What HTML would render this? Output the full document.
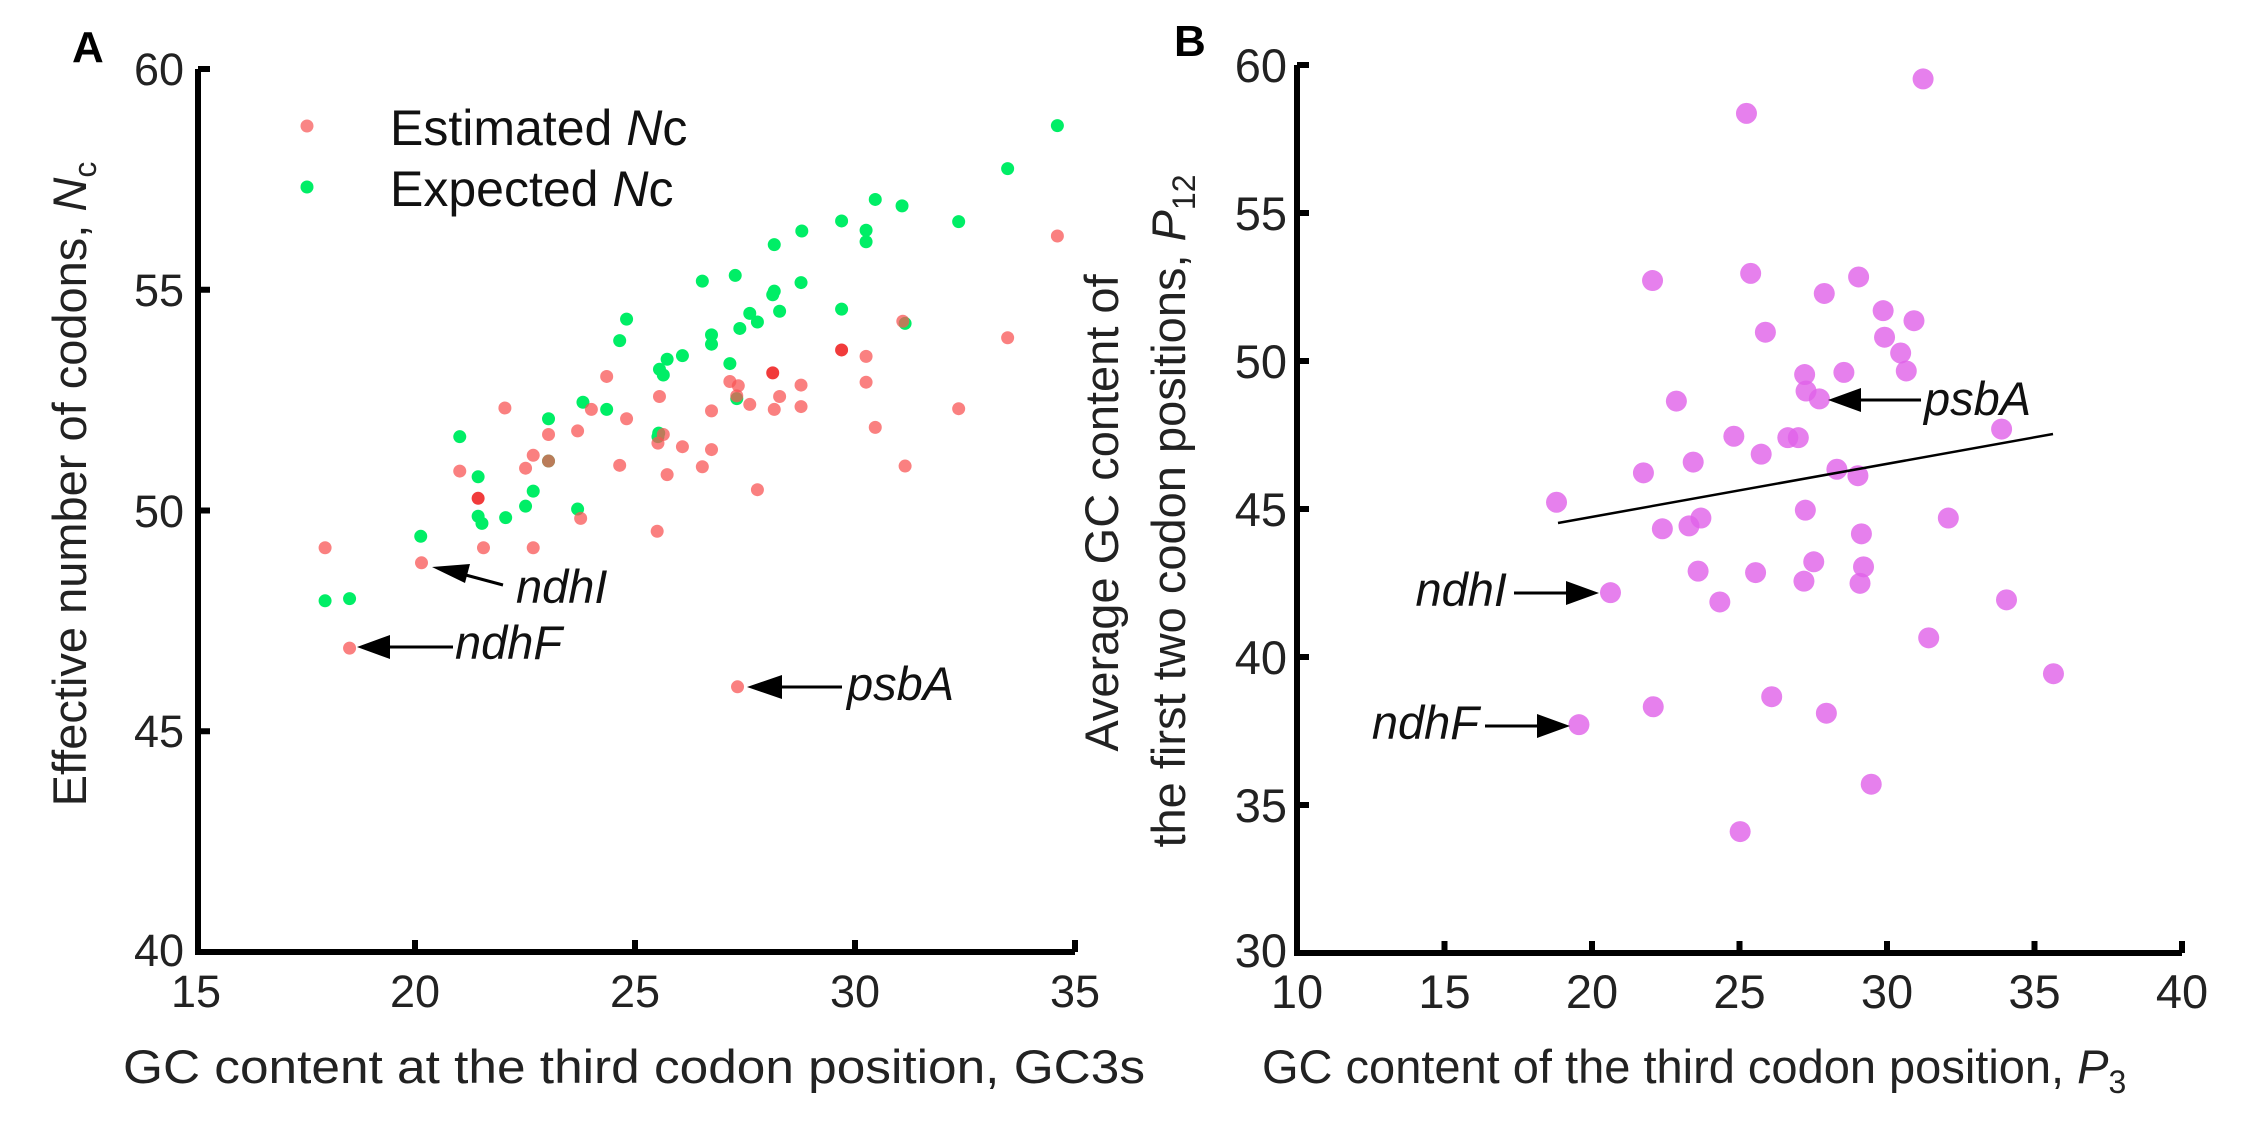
<!DOCTYPE html>
<html><head><meta charset="utf-8"><style>
html,body{margin:0;padding:0;background:#fff;}
svg{display:block;font-family:"Liberation Sans",Arial,sans-serif;}
</style></head><body>
<svg id="s" width="2249" height="1125" viewBox="0 0 2249 1125" xmlns="http://www.w3.org/2000/svg">
<rect width="2249" height="1125" fill="#fff"/>
<g id="A"></g><g id="B"></g>
<!-- Panel A axes -->
<g stroke="#000" stroke-width="6" fill="none">
<path d="M198 69 V952 H1075"/>
<path d="M198 69 h12 M198 289.8 h12 M198 510.5 h12 M198 731.2 h12"/>
<path d="M415 952 v-12 M635 952 v-12 M855 952 v-12 M1075 952 v-12"/>
</g>
<g font-size="45" fill="#222" text-anchor="end">
<text x="184" y="85">60</text><text x="184" y="306">55</text><text x="184" y="527">50</text><text x="184" y="747">45</text><text x="184" y="966">40</text>
</g>
<g font-size="45" fill="#222" text-anchor="middle">
<text x="196" y="1007">15</text><text x="415" y="1007">20</text><text x="635" y="1007">25</text><text x="855" y="1007">30</text><text x="1075" y="1007">35</text>
</g>
<text x="123" y="1083" font-size="47" fill="#222" textLength="1022" lengthAdjust="spacingAndGlyphs">GC content at the third codon position, GC3s</text>
<text transform="translate(86,484) rotate(-90)" text-anchor="middle" font-size="47" fill="#222">Effective number of codons, <tspan font-style="italic">N</tspan><tspan font-size="32" dy="10">c</tspan></text>
<text x="72" y="62" font-size="44" font-weight="bold">A</text>
<circle cx="307" cy="126" r="6.5" fill="#f87070" opacity="0.85"/>
<circle cx="307" cy="187" r="6.5" fill="#00ee66"/>
<text x="390" y="145" font-size="50" fill="#111">Estimated <tspan font-style="italic">N</tspan>c</text>
<text x="390" y="206" font-size="50" fill="#111">Expected <tspan font-style="italic">N</tspan>c</text>
<!-- A annotations -->
<g stroke="#000" stroke-width="3"><line x1="462" y1="574" x2="503" y2="585"/><line x1="385" y1="647" x2="453" y2="647"/><line x1="780" y1="687" x2="842" y2="687"/></g>
<g fill="#000"><polygon points="432,567 470,564 465,583"/><polygon points="357,647 390,635 390,659"/><polygon points="747,687 782,675 782,699"/></g>
<g font-size="47" font-style="italic" fill="#111"><text x="516" y="603">ndhI</text><text x="455" y="659">ndhF</text><text x="847" y="700">psbA</text></g>

<!-- Panel B axes -->
<g stroke="#000" stroke-width="6" fill="none">
<path d="M1297 65 V953 H2182"/>
<path d="M1297 65 h12 M1297 213 h12 M1297 361 h12 M1297 509 h12 M1297 657 h12 M1297 805 h12"/>
<path d="M1444.5 953 v-12 M1592 953 v-12 M1739.5 953 v-12 M1887 953 v-12 M2034.5 953 v-12 M2182 953 v-12"/>
</g>
<g font-size="47" fill="#222" text-anchor="end">
<text x="1287" y="82">60</text><text x="1287" y="230">55</text><text x="1287" y="378">50</text><text x="1287" y="526">45</text><text x="1287" y="674">40</text><text x="1287" y="822">35</text><text x="1287" y="967">30</text>
</g>
<g font-size="47" fill="#222" text-anchor="middle">
<text x="1297" y="1008">10</text><text x="1444.5" y="1008">15</text><text x="1592" y="1008">20</text><text x="1739.5" y="1008">25</text><text x="1887" y="1008">30</text><text x="2034.5" y="1008">35</text><text x="2182" y="1008">40</text>
</g>
<text x="1262" y="1083" font-size="47" fill="#222">GC content of the third codon position, <tspan font-style="italic">P</tspan><tspan font-size="32" dy="10">3</tspan></text>
<text transform="translate(1118,513) rotate(-90)" text-anchor="middle" font-size="47" fill="#222">Average GC content of</text>
<text transform="translate(1185,511) rotate(-90)" text-anchor="middle" font-size="47" fill="#222">the first two codon positions, <tspan font-style="italic">P</tspan><tspan font-size="32" dy="10">12</tspan></text>
<text x="1174" y="56" font-size="44" font-weight="bold">B</text>
<line x1="1558" y1="523" x2="2053" y2="434" stroke="#000" stroke-width="2.5"/>
<g stroke="#000" stroke-width="3"><line x1="1514" y1="593" x2="1570" y2="593"/><line x1="1485" y1="726" x2="1542" y2="726"/><line x1="1858" y1="400" x2="1921" y2="400"/></g>
<g fill="#000"><polygon points="1599,593 1566,581 1566,605"/><polygon points="1570,726 1537,714 1537,738"/><polygon points="1828,400 1861,388 1861,412"/></g>
<g font-size="47" font-style="italic" fill="#111"><text x="1507" y="606" text-anchor="end">ndhI</text><text x="1479" y="739" text-anchor="end">ndhF</text><text x="1924" y="415">psbA</text></g>
</svg>
<script>
var NS="http://www.w3.org/2000/svg";
function dot(g,x,y,r,f,o){var c=document.createElementNS(NS,"circle");c.setAttribute("cx",x);c.setAttribute("cy",y);c.setAttribute("r",r);c.setAttribute("fill",f);c.setAttribute("fill-opacity",o);g.appendChild(c);}
var gA=document.getElementById("A"),gB=document.getElementById("B");
function ax(z){return 195+(z-258)*0.7652;} function ay(z){return 69+(z-95)*0.7167;}
var green=[[1385,174],[1320,234],[1147,277],[1182,286],[1103,307],[1135,320],[1135,336],[1256,308],[1051,321],[1015,340],[964,383],[921,391],[1050,393],[1103,430],[1015,405],[1013,410],[1022,433],[983,436],[993,448],[970,457],[933,466],[933,479],[957,506],[822,444],[813,474],[875,500],[865,514],[870,522],[895,495],[1186,450],[966,555],[796,570],[765,560],[720,583],[720,642],[700,684],[690,705],[664,721],[628,664],[604,608],[628,719],[633,729],[758,709],[553,747],[428,837],[460,834],[864,603],[863,608]];
var red=[[1385,328],[1320,470],[1183,447],[1135,496],[1135,532],[1147,595],[1186,649],[1256,569],[1050,536],[1050,566],[1015,570],[1022,552],[983,563],[968,537],[957,531],[966,551],[993,682],[933,572],[933,626],[921,650],[895,622],[875,661],[865,552],[870,605],[863,617],[862,740],[822,583],[813,648],[796,524],[776,570],[758,600],[762,722],[720,605],[720,642],[700,634],[690,652],[700,763],[663,568],[604,656],[635,763],[554,784],[428,763],[460,903],[967,957]];
var dark=[[1103,487],[1013,519],[628,694]];
green.forEach(function(p){dot(gA,ax(p[0]),ay(p[1]),6.5,"#00ee66",1);});
red.forEach(function(p){dot(gA,ax(p[0]),ay(p[1]),6.5,"#f85555",0.75);});
dark.forEach(function(p){dot(gA,ax(p[0]),ay(p[1]),6.5,"#f03030",0.95);});
var B=[[1103,110],[851,158],[717,391],[857,381],[1011,386],[962,409],[1046,433],[1090,447],[878,463],[1048,470],[1071,492],[1079,517],[934,522],[990,519],[936,545],[955,556],[751,559],[1215,598],[833,608],[910,610],[925,610],[872,633],[775,644],[704,659],[980,654],[1010,663],[580,700],[935,711],[1139,722],[786,722],[769,733],[731,737],[1015,744],[947,783],[782,796],[864,798],[1018,790],[933,810],[1013,813],[813,839],[657,826],[1222,836],[1111,889],[1289,939],[887,971],[718,985],[965,994],[612,1010],[1029,1093],[842,1159]];
B.forEach(function(p){dot(gB,1150+p[0]*0.7009,p[1]*0.7175,10.5,"#e060e8",0.8);});
</script>
</body></html>
